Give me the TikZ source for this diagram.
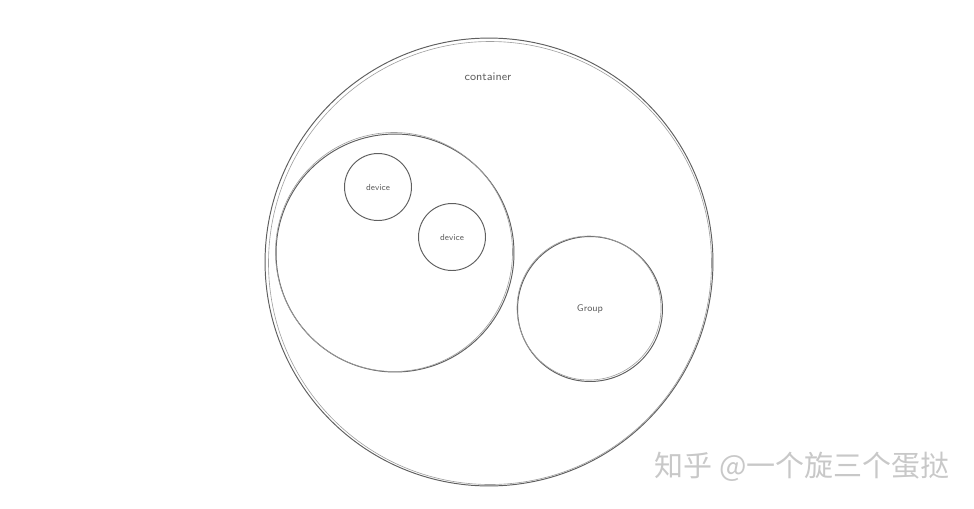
\documentclass[tikz,border=0pt]{standalone}
\usepackage{fontspec}
\newfontfamily\cjk{Noto Sans CJK SC}
\usetikzlibrary{positioning}
\definecolor{sketchgray}{RGB}{95, 95, 95}
\definecolor{markgray}{RGB}{200, 200, 200}

\tikzset{
  sketch/.style={circle, draw=sketchgray, line width=0.55pt, inner sep=0pt},
  tag/.style={font=\sffamily\tiny, text=sketchgray}
}

\begin{document}
\begin{tikzpicture}[x=0.02cm, y=-0.02cm]
\useasboundingbox (0,0) rectangle (974,508);

% Outer container
\node[sketch, minimum size=8.96cm] (container) at (489,262) {};
\draw[sketchgray!60, line width=0.35pt] (490,263) circle (221.5);
\node[tag, font=\sffamily\fontsize{6.5}{7}\selectfont] (containerlabel) at (488,77) {container};

% Inner group with devices
\node[sketch, minimum size=4.76cm] (inner) at (395,253) {};
\draw[sketchgray!60, line width=0.35pt] (394,252) ellipse (118.5 and 119.5);
\node[sketch, minimum size=1.34cm, tag] (deviceA) at (378,187) {device};
\node[sketch, minimum size=1.34cm, tag] (deviceB) at (452,237) {device};

% Group on the right
\node[sketch, minimum size=2.9cm, tag, font=\sffamily\fontsize{5.5}{6}\selectfont] (group) at (590,309) {Group};
\draw[sketchgray!60, line width=0.35pt] (589,308) circle (72);

% Watermark
\node[font=\cjk\fontsize{16.5}{17}\selectfont, text=markgray] (watermark) at (802,467) {知乎 @一个旋三个蛋挞};
\end{tikzpicture}
\end{document}
